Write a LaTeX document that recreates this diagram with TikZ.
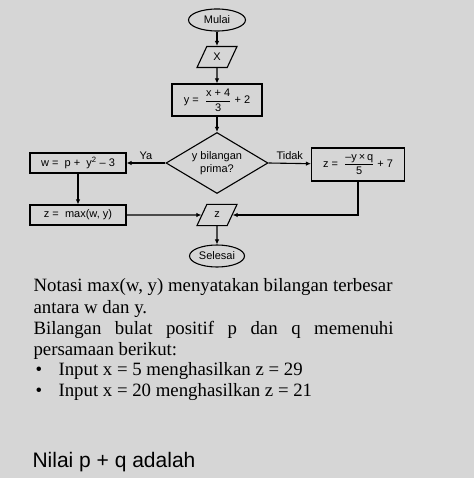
\documentclass[tikz,border=0pt]{standalone}
\usepackage{amsmath}
\usepackage{fontspec}
\setmainfont{Liberation Serif}
\setsansfont{Liberation Sans}
\usetikzlibrary{shapes.geometric, arrows.meta}

\begin{document}
\begin{tikzpicture}[x=1pt, y=-1pt, line width=1.1pt,
    every node/.style={font=\sffamily\fontsize{11}{13}\selectfont},
    terminal/.style={draw, ellipse, minimum width=57pt, minimum height=22pt, inner sep=0pt},
    io/.style={draw, trapezium, trapezium left angle=65, trapezium right angle=115,
        minimum width=40pt, minimum height=15pt, inner sep=1pt},
    proses/.style={draw, rectangle, inner sep=2pt},
    keputusan/.style={draw, diamond, aspect=1.7, minimum width=102pt, minimum height=61pt, inner sep=-3pt},
    panah/.style={-{Latex[length=5pt,width=4.5pt]}},
    teks/.style={anchor=base west, inner sep=0pt, font=\fontsize{18.8}{22}\selectfont}]
    \fill[black!16] (0,0) rectangle (474,478);
    \useasboundingbox (0,0) rectangle (474,478);
    % diagram alir
    \node[terminal] (mulai) at (217,20) {Mulai};
    \node[io] (inx) at (217,57) {X};
    \node[proses, minimum width=90pt, minimum height=32pt] (hitungy) at (217,100)
        {$\text{y = }\;\dfrac{\text{x + 4}}{\text{3}}\text{ + 2}$};
    \node[keputusan, align=center] (cek) at (217,163) {y bilangan\\prima?};
    \node[proses, minimum width=96pt, minimum height=20pt] (hitungw) at (78,163)
        {$\text{w =\ \ p +\ \ y}^{\text{2}}\text{ -- 3}$};
    \node[proses, minimum width=93pt, minimum height=33pt] (hitungz) at (358,164.5)
        {$\text{z =\ \ }\dfrac{\text{--y\,×\,q}}{\text{5}}\text{ + 7}$};
    \node[proses, minimum width=96pt, minimum height=20pt] (maks) at (78,215) {z =\ \ max(w, y)};
    \node[io] (outz) at (217,215) {z};
    \node[terminal, minimum width=55pt] (selesai) at (217,256) {Selesai};
    \draw[panah] (mulai) -- (inx);
    \draw[panah] (inx) -- (hitungy);
    \draw[panah] (hitungy) -- (cek);
    \draw[panah] (cek.west) -- node[above] {Ya} (hitungw);
    \draw[panah] (cek.east) -- node[above] {Tidak} (hitungz);
    \draw[panah] (hitungw) -- (maks);
    \draw[panah] (maks) -- (outz);
    \draw[panah] (hitungz.south) |- (outz);
    \draw[panah] (outz) -- (selesai);
    % soal
    \node[teks] (baris1) at (33,291) {Notasi max(w, y) menyatakan bilangan terbesar};
    \node[teks] (baris2) at (33,313) {antara w dan y.};
    \node[teks] (baris3) at (33,334) {\makebox[360pt][s]{Bilangan bulat positif p dan q memenuhi}};
    \node[teks] (baris4) at (33,355) {persamaan berikut:};
    \node[teks] (butir1) at (35,375) {\makebox[23pt][l]{\textbullet}Input x = 5 menghasilkan z = 29};
    \node[teks] (butir2) at (35,396) {\makebox[23pt][l]{\textbullet}Input x = 20 menghasilkan z = 21};
    \node[teks, font=\sffamily\fontsize{21}{25}\selectfont] (tanya) at (32,467) {Nilai p + q adalah};
\end{tikzpicture}
\end{document}
